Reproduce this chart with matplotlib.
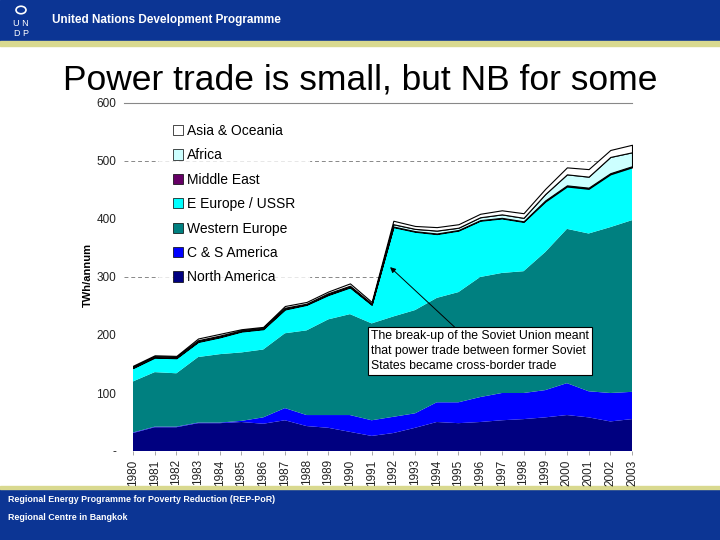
import numpy as np
import matplotlib
matplotlib.use('Agg')
import matplotlib.pyplot as plt
from matplotlib.patches import Rectangle, Circle

plt.rcParams.update({
    'font.family': ['Liberation Sans', 'DejaVu Sans'],
})

# TWh/annum by region
years = np.arange(1980, 2004)
north_america = [31, 41, 41, 48, 48, 50, 47, 53, 43, 40, 33, 26, 31, 40, 50, 48, 50, 53, 55, 58, 62, 58, 51, 55]
cs_america = [1, 1, 1, 1, 1, 2, 11, 21, 19, 22, 29, 27, 28, 25, 34, 36, 43, 47, 45, 47, 55, 45, 49, 47]
western_europe = [88, 94, 92, 113, 118, 118, 117, 129, 146, 165, 174, 167, 173, 178, 180, 190, 207, 207, 210, 238, 266, 272, 286, 296]
e_europe_ussr = [23, 25, 26, 26, 29, 36, 35, 41, 44, 42, 46, 32, 154, 135, 110, 106, 97, 94, 85, 87, 73, 77, 91, 91]
middle_east = [1, 1, 1, 1, 1, 1, 1, 1, 1, 1, 1, 1, 1, 1, 1, 1, 1, 1, 1, 2, 2, 2, 2, 2]
africa = [1, 1, 1, 2, 2, 1, 1, 2, 1, 2, 2, 1, 4, 4, 5, 4, 5, 6, 6, 11, 19, 19, 28, 24]
asia_oceania = [2, 2, 2, 3, 3, 2, 2, 3, 3, 3, 4, 3, 6, 5, 6, 6, 6, 7, 8, 9, 12, 13, 12, 13]

names = ['North America', 'C & S America', 'Western Europe', 'E Europe / USSR',
         'Middle East', 'Africa', 'Asia & Oceania']
colors = ['#000080', '#0000ff', '#008080', '#00ffff', '#660066', '#ccffff', '#ffffff']

blue = '#0c3594'
yellow = '#d9d98f'

fig = plt.figure(figsize=(7.2, 5.4), dpi=100)

# header / footer bands
fig.add_artist(Rectangle((0, 1 - 41/540), 1, 41/540, transform=fig.transFigure, color=blue, zorder=0))
fig.add_artist(Rectangle((0, 1 - 46/540), 1, 5/540, transform=fig.transFigure, color=yellow, zorder=0))
fig.add_artist(Rectangle((0, 0), 1, 51/540, transform=fig.transFigure, color=blue, zorder=0))
fig.add_artist(Rectangle((0, 51/540), 1, 3/540, transform=fig.transFigure, color=yellow, zorder=0))

# UNDP logo
fig.add_artist(Circle((21/720, 1 - 10/540), 5/720, transform=fig.transFigure,
                      facecolor='none', edgecolor='white', lw=1.2))
fig.text(21/720, 1 - 24/540, 'U N', color='white', fontsize=6.5, ha='center', va='center')
fig.text(21/720, 1 - 34/540, 'D P', color='white', fontsize=6.5, ha='center', va='center')
fig.text(52/720, 1 - 20/540, 'United Nations Development Programme', color='white',
         fontsize=8.5, fontweight='bold', ha='left', va='center')

fig.text(8/720, 40/540, 'Regional Energy Programme for Poverty Reduction (REP-PoR)',
         color='white', fontsize=6.4, fontweight='bold', ha='left', va='center')
fig.text(8/720, 22/540, 'Regional Centre in Bangkok',
         color='white', fontsize=6.4, fontweight='bold', ha='left', va='center')

fig.text(0.5, 1 - 80/540, 'Power trade is small, but NB for some', fontsize=25.5,
         ha='center', va='center', color='black')

ax = fig.add_axes([133/720, 1 - 451/540, 499/720, 348/540])
polys = ax.stackplot(years, north_america, cs_america, western_europe, e_europe_ussr,
                     middle_east, africa, asia_oceania, colors=colors, labels=names,
                     zorder=2)
for p in polys[4:]:
    p.set_edgecolor('black')
    p.set_linewidth(0.8)

# gridlines that show through
ytr = ax.get_yaxis_transform()
ax.plot([-0.018, 1.0], [600, 600], color='#888888', lw=0.8, transform=ytr, clip_on=False, zorder=1)
for g in [300, 500]:
    ax.plot([-0.018, 1.0], [g, g], color='#888888', lw=0.7, ls=(0, (4, 3)),
            transform=ytr, clip_on=False, zorder=1)

ax.set_xlim(1980, 2003)
ax.set_ylim(0, 600)
for s in ax.spines.values():
    s.set_visible(False)

ax.set_yticks([0, 100, 200, 300, 400, 500, 600])
ax.set_yticklabels(['-', '100', '200', '300', '400', '500', '600'])
ax.tick_params(axis='y', length=0, pad=12, labelsize=8.5, labelcolor='#222222')
ax.set_xticks(years)
ax.set_xticklabels([str(y) for y in years], rotation=90)
ax.tick_params(axis='x', length=3, width=0.6, color='#999999', pad=3,
               labelsize=8.5, labelcolor='#222222')

fig.text(88/720, 1 - 275/540, 'TWh/annum', rotation=90, fontsize=8, fontweight='bold',
         ha='center', va='center')

# legend, top layer first
handles = [Rectangle((0, 0), 1, 1, facecolor=c, edgecolor='black', lw=0.5) for c in colors]
leg = ax.legend(handles[::-1], names[::-1], loc='upper left',
                bbox_to_anchor=(159/720, 1 - 110/540), bbox_transform=fig.transFigure,
                frameon=True, fancybox=False, borderpad=1.0, borderaxespad=0,
                handlelength=0.75, handleheight=0.75, handletextpad=0.25,
                labelspacing=0.75, fontsize=10)
leg.get_frame().set_facecolor('white')
leg.get_frame().set_edgecolor('white')
leg.set_zorder(3)

ax.annotate('The break-up of the Soviet Union meant\nthat power trade between former Soviet\nStates became cross-border trade',
            xy=(1991.85, 317), xytext=(1990.97, 208), textcoords='data',
            ha='left', va='top', fontsize=8.8, linespacing=1.3,
            bbox=dict(boxstyle='square,pad=0.25', facecolor='white', edgecolor='black', lw=0.8),
            arrowprops=dict(arrowstyle='-|>', color='black', lw=0.7, relpos=(0.4, 1.0),
                            shrinkA=0, shrinkB=0, mutation_scale=8),
            zorder=4)

fig.savefig('out.png', dpi=100)
